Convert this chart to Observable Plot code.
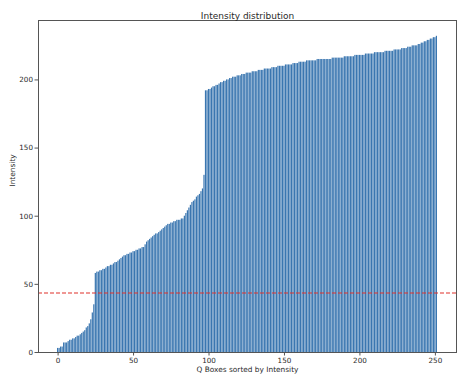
<!DOCTYPE html>
<html>
<head>
<meta charset="utf-8">
<script src="https://cdn.jsdelivr.net/npm/d3@7"></script>
<script src="https://cdn.jsdelivr.net/npm/@observablehq/plot@0.6"></script>
<style>
  html, body { margin: 0; padding: 0; background: #fff; }
</style>
</head>
<body>
<div id="chart"></div>
<script>
// Sorted intensities of the Q boxes
const lowValues = [3,3,4,4,7,7,7,8,9,9,10,10,11,12,12,13,14,15,16,18,19,21,24,29,35];
const midValues = [
  58,59,59,60,60,61,61,62,63,63,
  64,64,65,66,66,67,68,69,70,71,
  71,72,72,73,73,74,74,75,75,76,
  76,77,77,79,81,82,83,84,85,86,
  87,87,88,89,90,91,92,93,94,94,
  95,95,96,96,97,97,97,98,98,100,
  102,104,106,108,110,111,112,114,115,116,
  118,120,130
];
const highValues = [
  192,192,193,193,194,195,195,196,196,197,
  198,198,199,199,200,200,201,201,202,202,
  202,203,203,203,204,204,204,205,205,205,
  205,206,206,206,206,207,207,207,207,208,
  208,208,208,208,209,209,209,209,210,210,
  210,210,210,211,211,211,211,211,212,212,
  212,212,213,213,213,213,213,214,214,214,
  214,214,214,214,215,215,215,215,215,215,
  215,215,215,215,216,216,216,216,216,216,
  216,216,217,217,217,217,217,217,217,218,
  218,218,218,218,218,218,219,219,219,219,
  219,219,220,220,220,220,220,220,220,221,
  221,221,221,221,221,222,222,222,222,222,
  223,223,223,223,224,224,224,225,225,225,
  225,226,226,227,227,228,228,229,229,230,
  230,231,231,232
];
const thresholdValue = 43.7;
const xTicks = [0, 50, 100, 150, 200, 250];
const yTicks = [0, 50, 100, 150, 200];
const titleText = "Intensity distribution";
const xLabel = "Q Boxes sorted by Intensity";
const yLabel = "Intensity";

const intensities = [...lowValues, ...midValues, ...highValues];
const data = intensities.map((v, i) => ({i, v}));
const n = data.length;
const barHalf = 0.4;
const span = (n - 1) + 2 * barHalf;
const xDomain = [-barHalf - 0.05 * span, (n - 1) + barHalf + 0.05 * span];
const yMax = d3.max(intensities) * 1.05;

const textColor = "#2a2a2a";

const chart = Plot.plot({
  width: 474,
  height: 380,
  marginLeft: 38,
  marginRight: 18,
  marginTop: 20,
  marginBottom: 28,
  style: {fontFamily: "'DejaVu Sans', sans-serif", fontSize: "7.2px", color: textColor, background: "#fff"},
  x: {domain: xDomain, label: null},
  y: {domain: [0, yMax], label: null},
  marks: [
    Plot.rectY(data, {x1: d => d.i - barHalf, x2: d => d.i + barHalf, y1: 0, y2: "v", fill: "#3a76b0"}),
    Plot.ruleY([thresholdValue], {stroke: "#e0302a", strokeWidth: 1.1, strokeDasharray: "4,2"}),
    Plot.frame({stroke: "#555", strokeWidth: 1}),
    Plot.axisX({ticks: xTicks, tickSize: 3.5, tickPadding: 2, label: null, stroke: "#555", tickFormat: d3.format("d")}),
    Plot.axisY({ticks: yTicks, tickSize: 3.5, tickPadding: 2, label: null, stroke: "#555", tickFormat: d3.format("d")}),
    Plot.text([titleText], {frameAnchor: "top", dy: -8, fontSize: 9, fill: textColor}),
    Plot.text([xLabel], {frameAnchor: "bottom", dy: 19, fontSize: 7.4, fill: textColor}),
    Plot.text([yLabel], {frameAnchor: "left", dx: -26, rotate: -90, fontSize: 7.4, fill: textColor})
  ]
});
document.getElementById("chart").appendChild(chart);
</script>
</body>
</html>
